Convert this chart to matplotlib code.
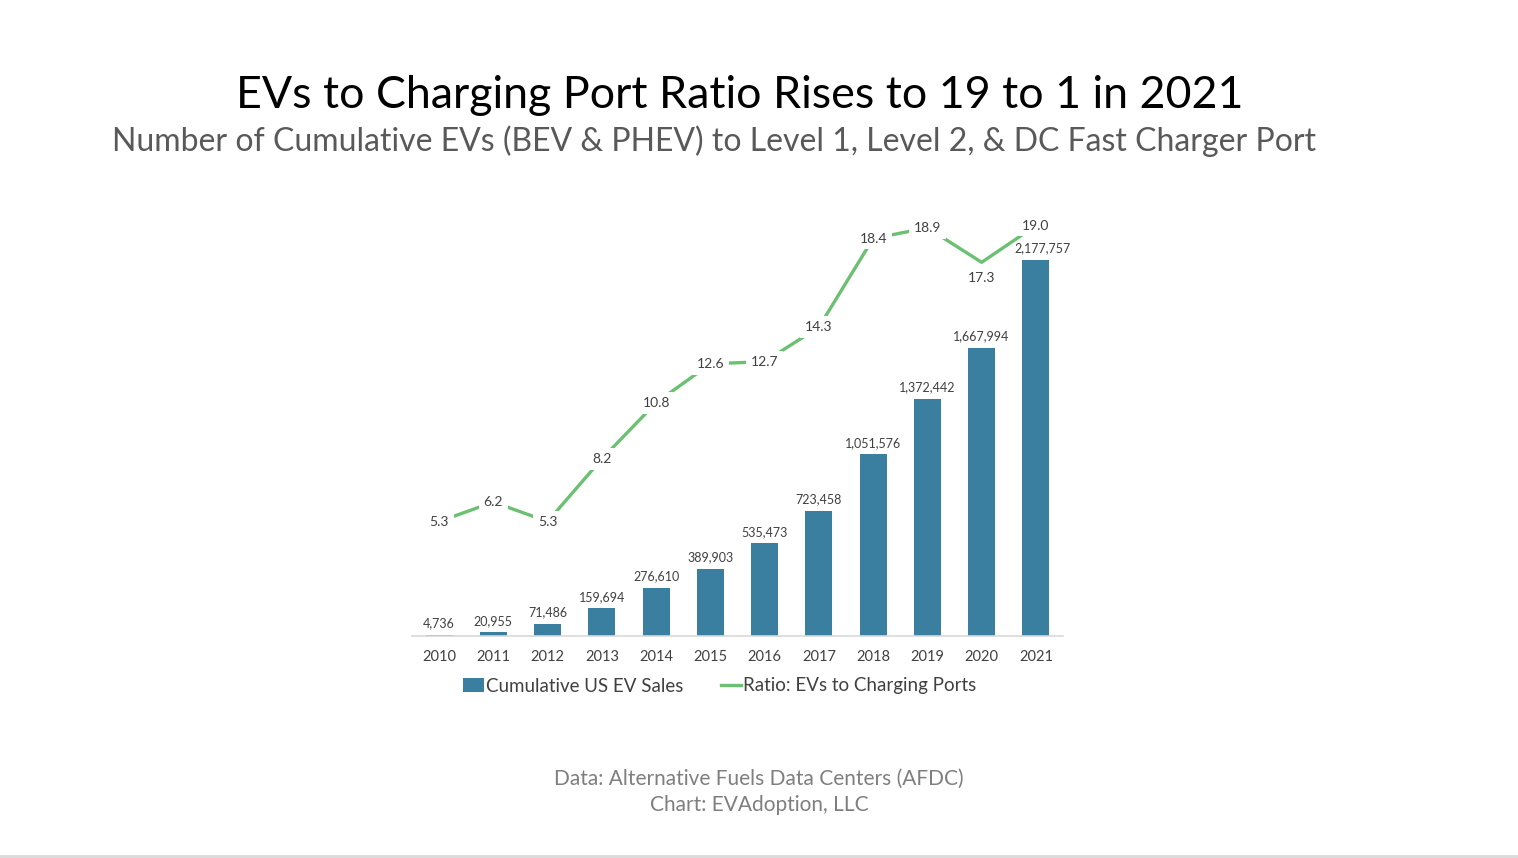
import matplotlib.pyplot as plt
import numpy as np

years = ["2010", "2011", "2012", "2013", "2014", "2015", "2016", "2017", "2018", "2019", "2020", "2021"]
ev_sales = [4736, 20955, 71486, 159694, 276610, 389903, 535473, 723458, 1051576, 1372442, 1667994, 2177757]
ratio = [5.3, 6.2, 5.3, 8.2, 10.8, 12.6, 12.7, 14.3, 18.4, 18.9, 17.3, 19.0]

bar_color = "#3A7FA0"
line_color = "#6CC072"
text_color = "#404040"

plt.rcParams['font.family'] = ['Lato', 'DejaVu Sans']

fig = plt.figure(figsize=(15.18, 8.58), dpi=100)
ax = fig.add_axes([412 / 1518, 1 - 636 / 858, 651 / 1518, 432 / 858])
x = np.arange(len(years))

bars = ax.bar(x, ev_sales, width=0.5, color=bar_color, zorder=2, label="Cumulative US EV Sales")
ax.set_xlim(-0.5, len(years) - 0.5)
ax.set_ylim(0, 2.5e6)
ax.set_yticks([])
ax.set_xticks(x, years, fontsize=10.5, color=text_color)
ax.tick_params(axis='x', length=0, pad=10)
for s in ["top", "right", "left"]:
    ax.spines[s].set_visible(False)
ax.spines["bottom"].set_color("#d9d9d9")
ax.spines["bottom"].set_linewidth(1.2)

for i, (xi, v) in enumerate(zip(x, ev_sales)):
    dx = 5 if i == len(years) - 1 else 0
    ax.annotate(f"{v:,}", (xi, v), xytext=(dx, 4), textcoords="offset points",
                ha="center", va="bottom", fontsize=9, color=text_color)

ax2 = ax.twinx()
ax2.set_ylim(0, 20)
ax2.axis("off")
ln, = ax2.plot(x, ratio, color=line_color, lw=2.4, zorder=3, label="Ratio: EVs to Charging Ports")
for i, (xi, v) in enumerate(zip(x, ratio)):
    if years[i] == "2020":
        ax2.annotate(f"{v:.1f}", (xi, v), xytext=(0, -7), textcoords="offset points",
                     ha="center", va="top", fontsize=10, color=text_color)
    else:
        ax2.text(xi, v, f"{v:.1f}", ha="center", va="center", fontsize=10, color=text_color,
                 zorder=4, bbox=dict(boxstyle="square,pad=0.35", fc="white", ec="none"))

fig.legend([bars, ln], ["Cumulative US EV Sales", "Ratio: EVs to Charging Ports"],
           loc="center", bbox_to_anchor=(720 / 1518, 1 - 686 / 858), ncol=2, frameon=False,
           fontsize=13.5, handlelength=1.1, handletextpad=0.1, columnspacing=2.0,
           labelcolor=text_color)

fig.text(740 / 1518, 1 - 96 / 858, "EVs to Charging Port Ratio Rises to 19 to 1 in 2021",
         ha="center", va="center", fontsize=32.2, color="black")
fig.text(714.5 / 1518, 1 - 141 / 858, "Number of Cumulative EVs (BEV & PHEV) to Level 1, Level 2, & DC Fast Charger Port",
         ha="center", va="center", fontsize=23, color="#595959")
fig.text(759 / 1518, 1 - 779 / 858, "Data: Alternative Fuels Data Centers (AFDC)",
         ha="center", va="center", fontsize=15, color="#7f7f7f")
fig.text(759 / 1518, 1 - 805 / 858, "Chart: EVAdoption, LLC",
         ha="center", va="center", fontsize=15, color="#7f7f7f")

fig.add_artist(plt.Line2D([0, 1], [1 - 856 / 858, 1 - 856 / 858], color="#d9d9d9", lw=2))

fig.savefig("out.png", dpi=100, facecolor="white")
